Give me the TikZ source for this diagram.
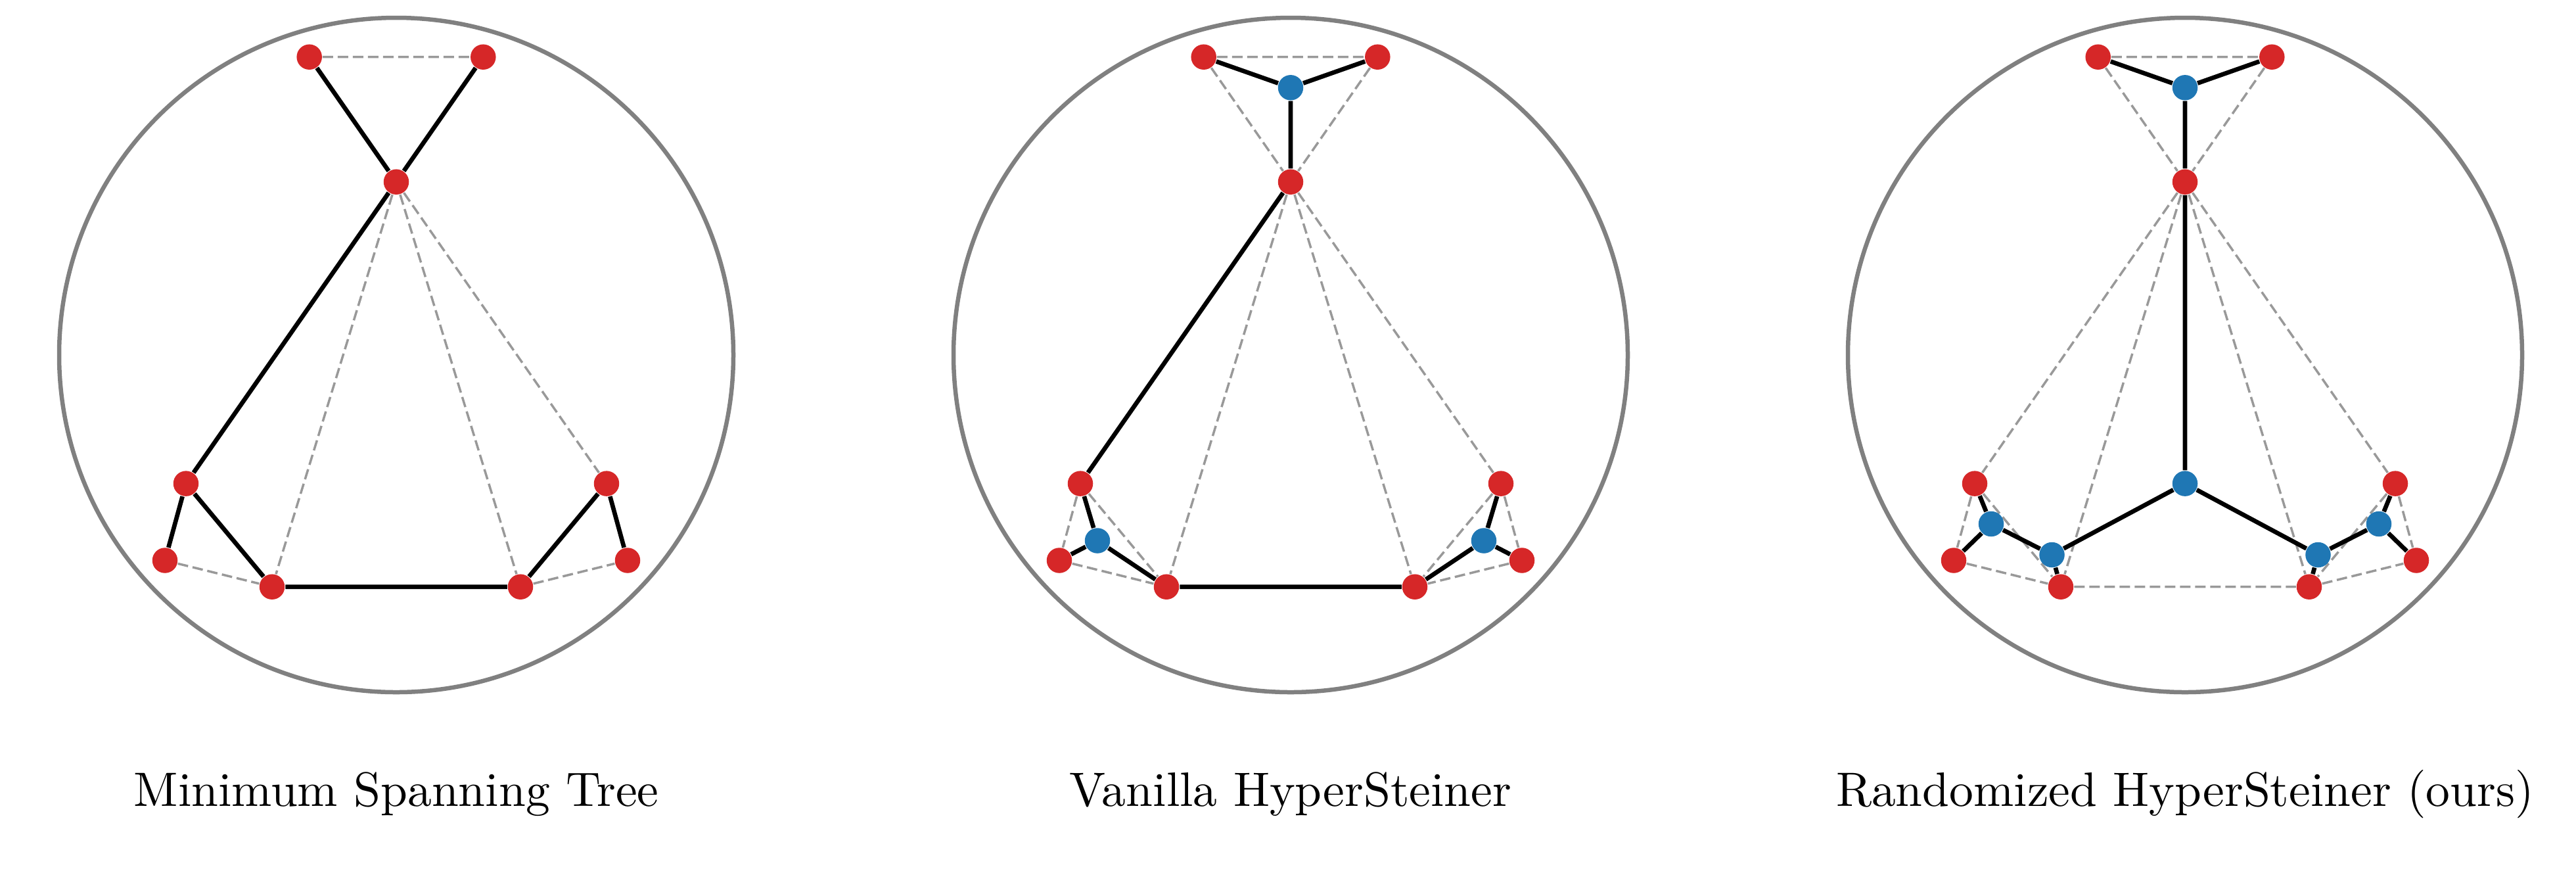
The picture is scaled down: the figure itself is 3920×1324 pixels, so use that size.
\documentclass[tikz,border=0pt]{standalone}
\usepackage{fontspec}
\newfontfamily\capfont{lmroman10-regular.otf}
\usetikzlibrary{backgrounds}
\definecolor{tred}{RGB}{214,39,40}
\definecolor{tblue}{RGB}{31,119,180}
\definecolor{ringgray}{RGB}{128,128,128}
\definecolor{dashgray}{RGB}{153,153,153}
\tikzset{
  term/.style={circle,fill=tred,draw=none,inner sep=0pt,minimum size=7.7pt},
  stein/.style={circle,fill=tblue,draw=none,inner sep=0pt,minimum size=7.7pt},
  tree/.style={line width=1.34pt,black},
  hedge/.style={line width=0.7pt,dashgray,dash pattern=on 3.2pt off 1.4pt},
  ring/.style={line width=1.3pt,ringgray},
  caption/.style={anchor=base,inner sep=0pt,font=\capfont\fontsize{14.7}{17}\selectfont}
}
\newcommand\placeterminals[2]{%
  \node[term] (#1T1) at (#2-132.3,86.7) {};
  \node[term] (#1T2) at (#2+132.3,86.7) {};
  \node[term] (#1C)  at (#2,276.7) {};
  \node[term] (#1LU) at (#2-320,735.6) {};
  \node[term] (#1LL) at (#2-352,852.5) {};
  \node[term] (#1BL) at (#2-189,892.7) {};
  \node[term] (#1RU) at (#2+320,735.6) {};
  \node[term] (#1RL) at (#2+352,852.5) {};
  \node[term] (#1BR) at (#2+189,892.7) {};
  \node[circle,draw=none,inner sep=0pt,minimum size=1026*0.2pt] (#1ring) at (#2,540) {};
}
\begin{document}
\begin{tikzpicture}[x=0.2pt,y=-0.2pt]
\useasboundingbox (0,0) rectangle (3920,1324);
% panel 1
\placeterminals{a}{603}
% panel 2
\placeterminals{b}{1964}
\node[stein] (bS)  at (1964,133.3) {};
\node[stein] (bSL) at (1964-294,822.5) {};
\node[stein] (bSR) at (1964+294,822.5) {};
% panel 3
\placeterminals{c}{3325}
\node[stein] (cS)   at (3325,133.3) {};
\node[stein] (cSC)  at (3325,735.6) {};
\node[stein] (cSL1) at (3325-295,797) {};
\node[stein] (cSL2) at (3325-202.5,844) {};
\node[stein] (cSR1) at (3325+295,797) {};
\node[stein] (cSR2) at (3325+202.5,844) {};
\begin{pgfonlayer}{background}
  \draw[ring] (aring.center) circle[radius=513];
  \draw[ring] (bring.center) circle[radius=513];
  \draw[ring] (cring.center) circle[radius=513];
  % panel 1 edges
  \draw[hedge] (aT1)--(aT2) (aC)--(aBL) (aC)--(aBR) (aC)--(aRU) (aLL)--(aBL) (aBR)--(aRL);
  \draw[tree] (aT1)--(aC) (aT2)--(aC) (aC)--(aLU) (aLU)--(aLL) (aLU)--(aBL)
              (aBL)--(aBR) (aBR)--(aRU) (aRU)--(aRL);
  % panel 2 edges
  \draw[hedge] (bT1)--(bT2) (bT1)--(bC) (bT2)--(bC) (bC)--(bBL) (bC)--(bBR) (bC)--(bRU)
               (bLU)--(bLL) (bLU)--(bBL) (bLL)--(bBL) (bRU)--(bRL) (bRU)--(bBR) (bRL)--(bBR);
  \draw[tree] (bT1)--(bS) (bT2)--(bS) (bS)--(bC) (bC)--(bLU) (bLU)--(bSL) (bSL)--(bLL)
              (bSL)--(bBL) (bBL)--(bBR) (bBR)--(bSR) (bSR)--(bRU) (bSR)--(bRL);
  % panel 3 edges
  \draw[hedge] (cT1)--(cT2) (cT1)--(cC) (cT2)--(cC) (cC)--(cLU) (cC)--(cBL) (cC)--(cBR) (cC)--(cRU)
               (cLU)--(cLL) (cLU)--(cBL) (cLL)--(cBL) (cBL)--(cBR) (cBR)--(cRL) (cRU)--(cRL) (cRU)--(cBR);
  \draw[tree] (cT1)--(cS) (cT2)--(cS) (cS)--(cC) (cC)--(cSC) (cSC)--(cSL2) (cSC)--(cSR2)
              (cSL2)--(cSL1) (cSL2)--(cBL) (cSL1)--(cLU) (cSL1)--(cLL)
              (cSR2)--(cSR1) (cSR2)--(cBR) (cSR1)--(cRU) (cSR1)--(cRL);
\end{pgfonlayer}
\node[caption] (lab1) at (603,1226) {Minimum Spanning Tree};
\node[caption] (lab2) at (1964,1226) {Vanilla HyperSteiner};
\node[caption] (lab3) at (3325,1226) {Randomized HyperSteiner (ours)};
\end{tikzpicture}
\end{document}
